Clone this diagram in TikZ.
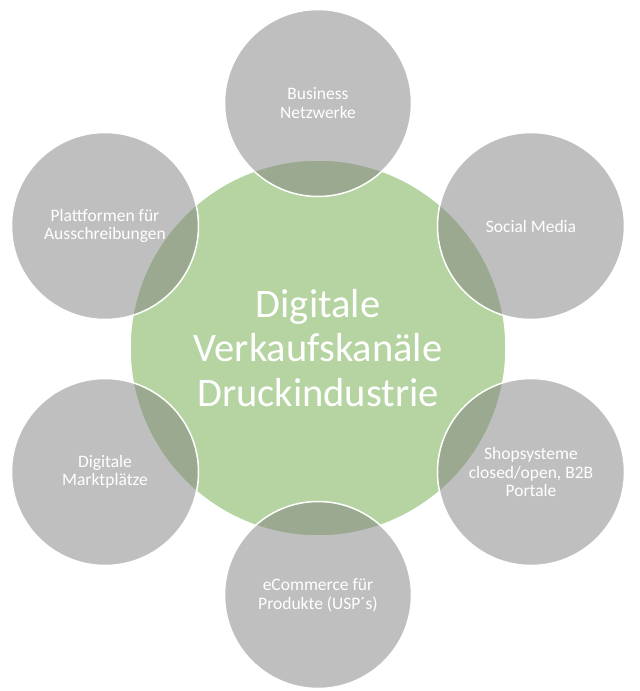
\documentclass[tikz,border=0pt]{standalone}
\usepackage{fontspec}
\setmainfont{Carlito}
\definecolor{gruen}{RGB}{181,212,161}
\begin{document}
\begin{tikzpicture}[x=1pt, y=-1pt]
    \tikzstyle{zentrum}=[circle, fill=gruen, draw=white, line width=1.5pt, minimum size=376pt, inner sep=0pt, text=white, align=center, font=\fontsize{40.5}{44.5}\selectfont]
    \tikzstyle{kanal}=[circle, fill=black!50, fill opacity=0.5, text opacity=1, draw=white, line width=1.5pt, minimum size=187pt, inner sep=0pt, text=white, align=center, font=\fontsize{17.5}{18.5}\selectfont]
    \useasboundingbox (0,0) rectangle (640,691);
    \node[zentrum] (z) at (318,348){Digitale\\Verkaufskanäle\\Druckindustrie};
    \node[kanal] (k1) at (318,103){Business\\Netzwerke};
    \node[kanal] (k2) at (531,226){Social Media};
    \node[kanal] (k3) at (531,472){Shopsysteme\\closed/open, B2B\\Portale};
    \node[kanal] (k4) at (318,595){eCommerce für\\Produkte (USP´s)};
    \node[kanal] (k5) at (105,472){Digitale\\Marktplätze};
    \node[kanal] (k6) at (105,226){Plattformen für\\Ausschreibungen};
\end{tikzpicture}
\end{document}
